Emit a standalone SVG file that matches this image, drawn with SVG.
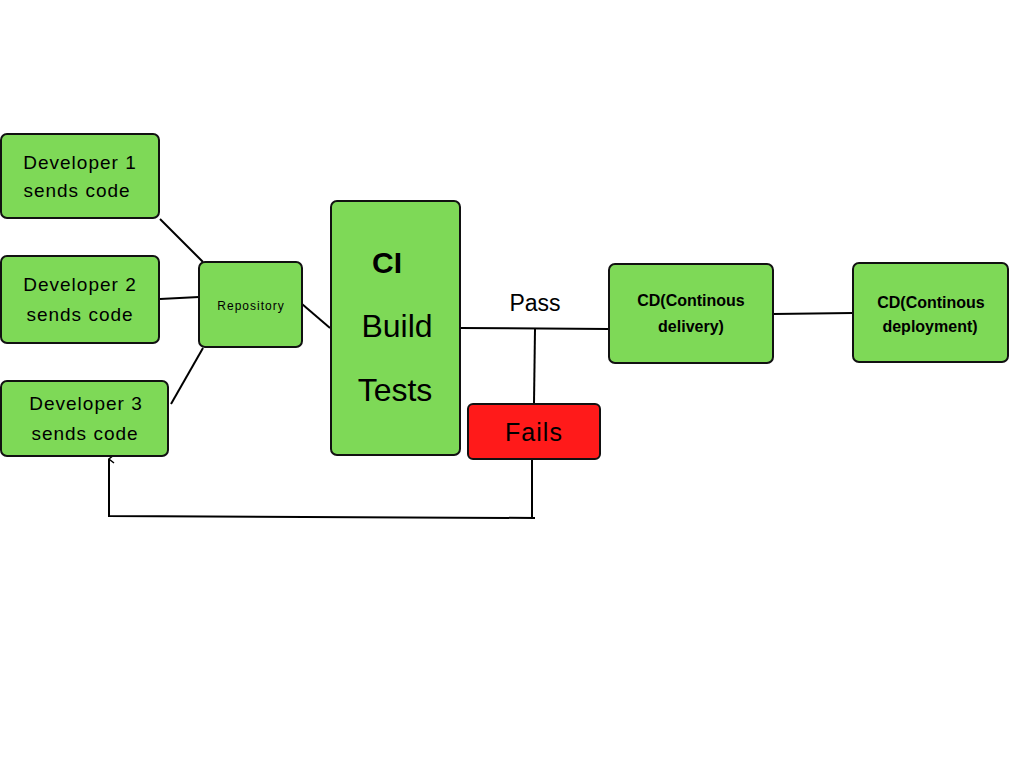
<svg xmlns="http://www.w3.org/2000/svg" width="1024" height="768" viewBox="0 0 1024 768">
<style>
.n{fill:#7ed957;stroke:#111;stroke-width:2}
.f{fill:#ff1a1a;stroke:#111;stroke-width:2}
.t{font-family:"Liberation Sans",Arial,sans-serif;fill:#000;text-anchor:middle;letter-spacing:1px}
.b{font-family:"Liberation Sans",Arial,sans-serif;font-weight:bold;fill:#000;text-anchor:middle}
.c{stroke:#000;stroke-width:2;fill:none}
</style>
<defs><marker id="a" markerWidth="10" markerHeight="10" refX="5" refY="1" orient="auto" markerUnits="userSpaceOnUse"><path d="M1,6 L5,1 L9,6" fill="none" stroke="#000" stroke-width="1.5"/></marker></defs>
<rect width="1024" height="768" fill="#fff"/>
<g id="connectors">
<line class="c" x1="160" y1="219" x2="203" y2="262"/>
<line class="c" x1="160" y1="299" x2="199" y2="297"/>
<line class="c" x1="171" y1="404" x2="203" y2="348"/>
<line class="c" x1="302" y1="304" x2="330" y2="328"/>
<line class="c" x1="460" y1="328" x2="609" y2="329"/>
<line class="c" x1="535" y1="329" x2="534" y2="403"/>
<line class="c" x1="773" y1="314" x2="853" y2="313"/>
<line class="c" x1="532" y1="459" x2="532" y2="518"/>
<path class="c" d="M535,518 L109,516 L109,459" marker-end="url(#a)"/>
</g>
<g id="dev1"><rect class="n" x="1" y="134" width="158" height="84" rx="6"/><text class="t" x="80" y="169" font-size="19">Developer 1</text><text class="t" x="77" y="197" font-size="19">sends code</text></g>
<g id="dev2"><rect class="n" x="1" y="256" width="158" height="87" rx="6"/><text class="t" x="80" y="291" font-size="19">Developer 2</text><text class="t" x="80" y="321" font-size="19">sends code</text></g>
<g id="dev3"><rect class="n" x="1" y="381" width="167" height="75" rx="6"/><text class="t" x="86" y="410" font-size="19">Developer 3</text><text class="t" x="85" y="440" font-size="19">sends code</text></g>
<g id="repo"><rect class="n" x="199" y="262" width="103" height="85" rx="6"/><text class="t" x="251" y="310" font-size="12">Repository</text></g>
<g id="ci"><rect class="n" x="331" y="201" width="129" height="254" rx="6"/><text class="b" x="387" y="273" font-size="30">CI</text><text class="t" x="397" y="337" font-size="32" style="letter-spacing:0">Build</text><text class="t" x="395" y="401" font-size="32" style="letter-spacing:0">Tests</text></g>
<text class="t" x="535" y="311" font-size="23" style="letter-spacing:0">Pass</text>
<g id="fails"><rect class="f" x="468" y="404" width="132" height="55" rx="5"/><text class="t" x="534" y="441" font-size="25">Fails</text></g>
<g id="cd1"><rect class="n" x="609" y="264" width="164" height="99" rx="6"/><text class="b" x="691" y="306" font-size="16">CD(Continous</text><text class="b" x="691" y="332" font-size="16">delivery)</text></g>
<g id="cd2"><rect class="n" x="853" y="263" width="155" height="99" rx="6"/><text class="b" x="931" y="308" font-size="16">CD(Continous</text><text class="b" x="930" y="332" font-size="16">deployment)</text></g>
</svg>
